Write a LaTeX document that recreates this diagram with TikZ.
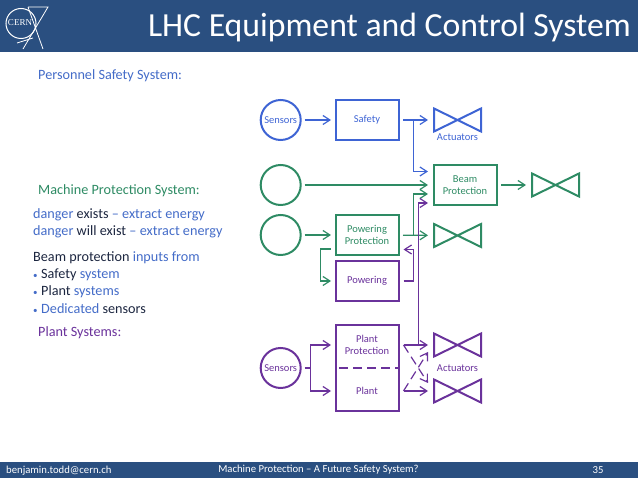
\documentclass[tikz,border=0pt]{standalone}
\usepackage{fontspec}
\setmainfont{Carlito}
\newfontfamily\logofont{Liberation Serif}
\usetikzlibrary{arrows.meta}

\definecolor{barcolor}{RGB}{42,79,128}
\definecolor{safetycolor}{RGB}{62,100,212}
\definecolor{protectcolor}{RGB}{46,139,100}
\definecolor{plantcolor}{RGB}{106,50,155}
\definecolor{inkcolor}{RGB}{28,38,64}
\definecolor{bluetext}{RGB}{68,108,200}

\tikzset{
    conn/.style={line width=1.2pt, -{Straight Barb[length=7pt,width=9pt]}},
    plainconn/.style={line width=1.2pt},
    devicebox/.style={draw, line width=2pt, minimum width=63pt, minimum height=40pt, outer sep=4.5pt, align=center, font=\fontsize{10.5}{12.5}\selectfont, inner sep=0pt},
    sensorcircle/.style={draw, circle, line width=2pt, minimum size=40pt, outer sep=4pt, inner sep=0pt, font=\fontsize{10.5}{12.5}\selectfont},
    valvebox/.style={minimum width=47pt, minimum height=23pt, outer sep=6pt, inner sep=0pt},
    smalllabel/.style={font=\fontsize{10.5}{12.5}\selectfont, inner sep=0pt},
    sidetext/.style={anchor=west, inner sep=0pt, font=\fontsize{14.2}{17}\selectfont},
    bartext/.style={text=white, inner sep=0pt, font=\fontsize{10.7}{13}\selectfont}
}

% small bullet for the list on the left
\newcommand{\sidebullet}{\makebox[8pt][l]{\fontsize{9}{9}\selectfont•}}

% valve symbol: name, centre x, centre y, colour
\newcommand{\valve}[4]{
    \node[valvebox] (#1) at (#2,#3) {};
    \draw[#4, line width=2pt, line join=miter] (#1.center) -- ++(-23.5,-11.5) -- ++(0,23) -- ++(47,-23) -- ++(0,23) -- cycle;
}

\begin{document}
\begin{tikzpicture}[x=1pt,y=-1pt]
    \useasboundingbox (0,0) rectangle (638,478);

    % Title and footer bars
    \fill[barcolor] (0,0) rectangle (638,52);
    \fill[barcolor] (0,462) rectangle (638,478);
    \node[text=white, inner sep=0pt, font=\fontsize{33.7}{38}\selectfont] (title) at (389.5,28) {LHC Equipment and Control System};
    \node[bartext, anchor=west] (mail) at (6,470.5) {benjamin.todd@cern.ch};
    \node[bartext] (talk) at (318.5,470) {Machine Protection -- A Future Safety System?};
    \node[bartext] (page) at (598,470) {35};

    % CERN logo
    \draw[white, line width=1pt] (21,23.5) circle (15);
    \draw[white, line width=0.8pt] (28,7) -- (48,7) -- (23,49) (28,7) -- (43,49) (17,43) -- (33,38);
    \node[text=white, inner sep=0pt, font=\logofont\fontsize{9}{9}\selectfont] (logo) at (20,22.5) {CERN};

    % Text on the left
    \node[sidetext, text=bluetext] (personnel) at (38,76) {Personnel Safety System:};
    \node[sidetext, text=protectcolor] (machine) at (38,191) {Machine Protection System:};
    \node[sidetext, text=bluetext] (lineA) at (33,215) {danger \textcolor{inkcolor}{exists} -- extract energy};
    \node[sidetext, text=bluetext] (lineB) at (33,232) {danger \textcolor{inkcolor}{will exist} -- extract energy};
    \node[sidetext, text=bluetext] (lineC) at (33,257.5) {\textcolor{inkcolor}{Beam protection} inputs from};
    \node[sidetext, text=bluetext] (lineD) at (33,274.5) {\sidebullet\textcolor{inkcolor}{Safety} system};
    \node[sidetext, text=bluetext] (lineE) at (33,291.5) {\sidebullet\textcolor{inkcolor}{Plant} systems};
    \node[sidetext, text=bluetext] (lineF) at (33,308.5) {\sidebullet Dedicated \textcolor{inkcolor}{sensors}};
    \node[sidetext, text=plantcolor] (plantsys) at (38,333) {Plant Systems:};

    % Safety row
    \node[sensorcircle, safetycolor] (sensorsA) at (280.7,120) {Sensors};
    \node[devicebox, safetycolor] (safety) at (367,120) {Safety};
    \valve{valveA}{457.5}{120}{safetycolor}
    \node[smalllabel, text=safetycolor] (actA) at (457.5,137.5) {Actuators};
    \coordinate (branchA) at (413.5,120);
    \coordinate (beaminA) at (428,171.5);
    \draw[conn, safetycolor] (sensorsA) -- (safety);
    \draw[conn, safetycolor] (safety) -- (valveA);
    \draw[conn, safetycolor] (branchA) |- (beaminA);

    % Beam protection row
    \node[sensorcircle, protectcolor] (sensorsB) at (280.7,185) {};
    \node[devicebox, protectcolor] (beam) at (465,185) {Beam\\Protection};
    \valve{valveB}{555.5}{185}{protectcolor}
    \coordinate (beaminB) at (428,185);
    \draw[conn, protectcolor] (sensorsB) -- (beaminB);
    \draw[conn, protectcolor] (beam) -- (valveB);

    % Powering rows
    \node[sensorcircle, protectcolor] (sensorsC) at (280.7,235) {};
    \node[devicebox, protectcolor] (powprot) at (367,235) {Powering\\Protection};
    \node[devicebox, plantcolor] (powering) at (367,281) {Powering};
    \valve{valveC}{457.5}{235.5}{protectcolor}
    \coordinate (branchC) at (413.5,235);
    \coordinate (beaminC) at (428,194);
    \coordinate (permitout) at (331,249);
    \coordinate (permitin) at (331,281);
    \coordinate (permitmid) at (320.5,265);
    \coordinate (feedout) at (403.5,281);
    \coordinate (feedin) at (403.5,249.5);
    \coordinate (feedmid) at (413.5,265);
    \draw[conn, protectcolor] (sensorsC) -- (powprot);
    \draw[conn, protectcolor] (powprot) -- (valveC);
    \draw[conn, protectcolor] (branchC) |- (beaminC);
    \draw[conn, protectcolor] (permitout) -| (permitmid) |- (permitin);
    \draw[conn, plantcolor] (feedout) -| (feedmid) |- (feedin);

    % Plant rows
    \node[sensorcircle, plantcolor] (sensorsD) at (280.7,368) {Sensors};
    \node[devicebox, plantcolor, minimum height=86pt] (plant) at (367,368.5) {};
    \node[smalllabel, text=plantcolor, align=center] (plantprot) at (367,345) {Plant\\Protection};
    \node[smalllabel, text=plantcolor] (plantlow) at (367,391) {Plant};
    \valve{valveD}{457.5}{345}{plantcolor}
    \valve{valveE}{457.5}{391}{plantcolor}
    \node[smalllabel, text=plantcolor] (actD) at (457.5,368) {Actuators};
    \coordinate (split) at (310.5,368);
    \coordinate (inU) at (331,345);
    \coordinate (inL) at (331,391);
    \coordinate (outU) at (403.5,345);
    \coordinate (outL) at (403.5,391);
    \coordinate (endU) at (428,345);
    \coordinate (endL) at (428,391);
    \coordinate (crossU) at (428,352);
    \coordinate (crossL) at (428,383);
    \coordinate (dashL) at (339,368);
    \coordinate (dashR) at (399,368);
    \coordinate (riser) at (418.5,345);
    \coordinate (beaminD) at (428,203);
    \draw[plainconn, plantcolor] (sensorsD) -- (split);
    \draw[conn, plantcolor] (split) |- (inU);
    \draw[conn, plantcolor] (split) |- (inL);
    \draw[conn, plantcolor] (outU) -- (endU);
    \draw[conn, plantcolor] (outL) -- (endL);
    \draw[conn, plantcolor] (riser) |- (beaminD);
    \draw[plantcolor, line width=1.5pt, dash pattern=on 9pt off 5pt] (dashL) -- (dashR);
    \draw[conn, plantcolor, dash pattern=on 9pt off 5pt] (outU) -- (crossL);
    \draw[conn, plantcolor, dash pattern=on 9pt off 5pt] (outL) -- (crossU);
\end{tikzpicture}
\end{document}
